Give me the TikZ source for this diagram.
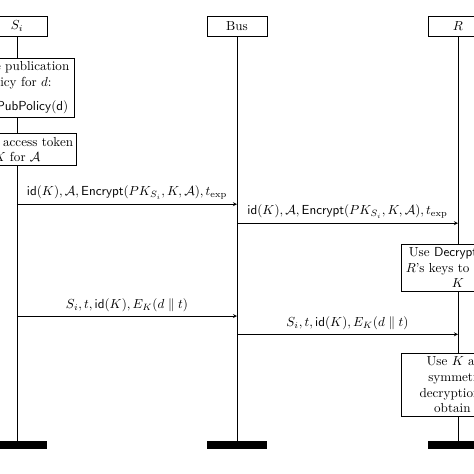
\documentclass[tikz,border=0pt]{standalone}
\usetikzlibrary{arrows}
\begin{document}
\begin{tikzpicture}[>=stealth,
    actor/.style={draw, minimum width=45.8pt, minimum height=15.3pt},
    task/.style={draw, align=center, inner sep=2.6pt, minimum width=87pt},
    foot/.style={fill=black, minimum width=45.8pt, minimum height=6.1pt, inner sep=0pt}]
        \useasboundingbox (0,0) rectangle (12.72,-12.72);
        \clip (0,0) rectangle (12.72,-12.72);
        % heads and feet of the lifelines
        \node[actor] (hS) at (0.456, -0.70) {$S_i$};
        \node[actor] (hB) at (6.36, -0.70) {Bus};
        \node[actor] (hR) at (12.29, -0.70) {$R$};
        \node[foot] (fS) at (0.456, -11.94) {};
        \node[foot] (fB) at (6.36, -11.94) {};
        \node[foot] (fR) at (12.29, -11.94) {};
        % local steps
        \node[task] (pol) at (0.456, -2.35) {Define publication\\ policy for $d$:\\[6pt] $\mathcal{A} \leftarrow \mathsf{PubPolicy(d)}$};
        \node[task] (tok) at (0.456, -4.01) {Create access token\\ $K$ for $\mathcal{A}$};
        \node[task] (dec) at (12.29, -7.18) {Use $\mathsf{Decrypt}$ with\\ $R$'s keys to obtain\\ $K$};
        \node[task] (sym) at (12.29, -10.33) {Use $K$ and\\ symmetric\\ decryption to\\ obtain $d$};
        % lifelines
        \draw (hS) -- (pol);
        \draw (pol) -- (tok);
        \draw (tok) -- (fS);
        \draw (hB) -- (fB);
        \draw (hR) -- (dec);
        \draw (dec) -- (sym);
        \draw (sym) -- (fR);
        % messages
        \coordinate (m1s) at (0.456, -5.48);
        \coordinate (m1b) at (6.36, -5.48);
        \coordinate (m2b) at (6.36, -5.99);
        \coordinate (m2r) at (12.29, -5.99);
        \coordinate (m3s) at (0.456, -8.48);
        \coordinate (m3b) at (6.36, -8.48);
        \coordinate (m4b) at (6.36, -8.97);
        \coordinate (m4r) at (12.29, -8.97);
        \draw[->] (m1s) to node[above] {$\mathsf{id}(K), \mathcal{A}, \mathsf{Encrypt}(PK_{S_i}, K, \mathcal{A}), t_{\mathrm{exp}}$} (m1b);
        \draw[->] (m2b) to node[above] {$\mathsf{id}(K), \mathcal{A}, \mathsf{Encrypt}(PK_{S_i}, K, \mathcal{A}), t_{\mathrm{exp}}$} (m2r);
        \draw[->] (m3s) to node[above] {$S_i, t, \mathsf{id}(K), E_K(d \parallel t)$} (m3b);
        \draw[->] (m4b) to node[above] {$S_i, t, \mathsf{id}(K), E_K(d \parallel t)$} (m4r);
    \end{tikzpicture}
\end{document}
